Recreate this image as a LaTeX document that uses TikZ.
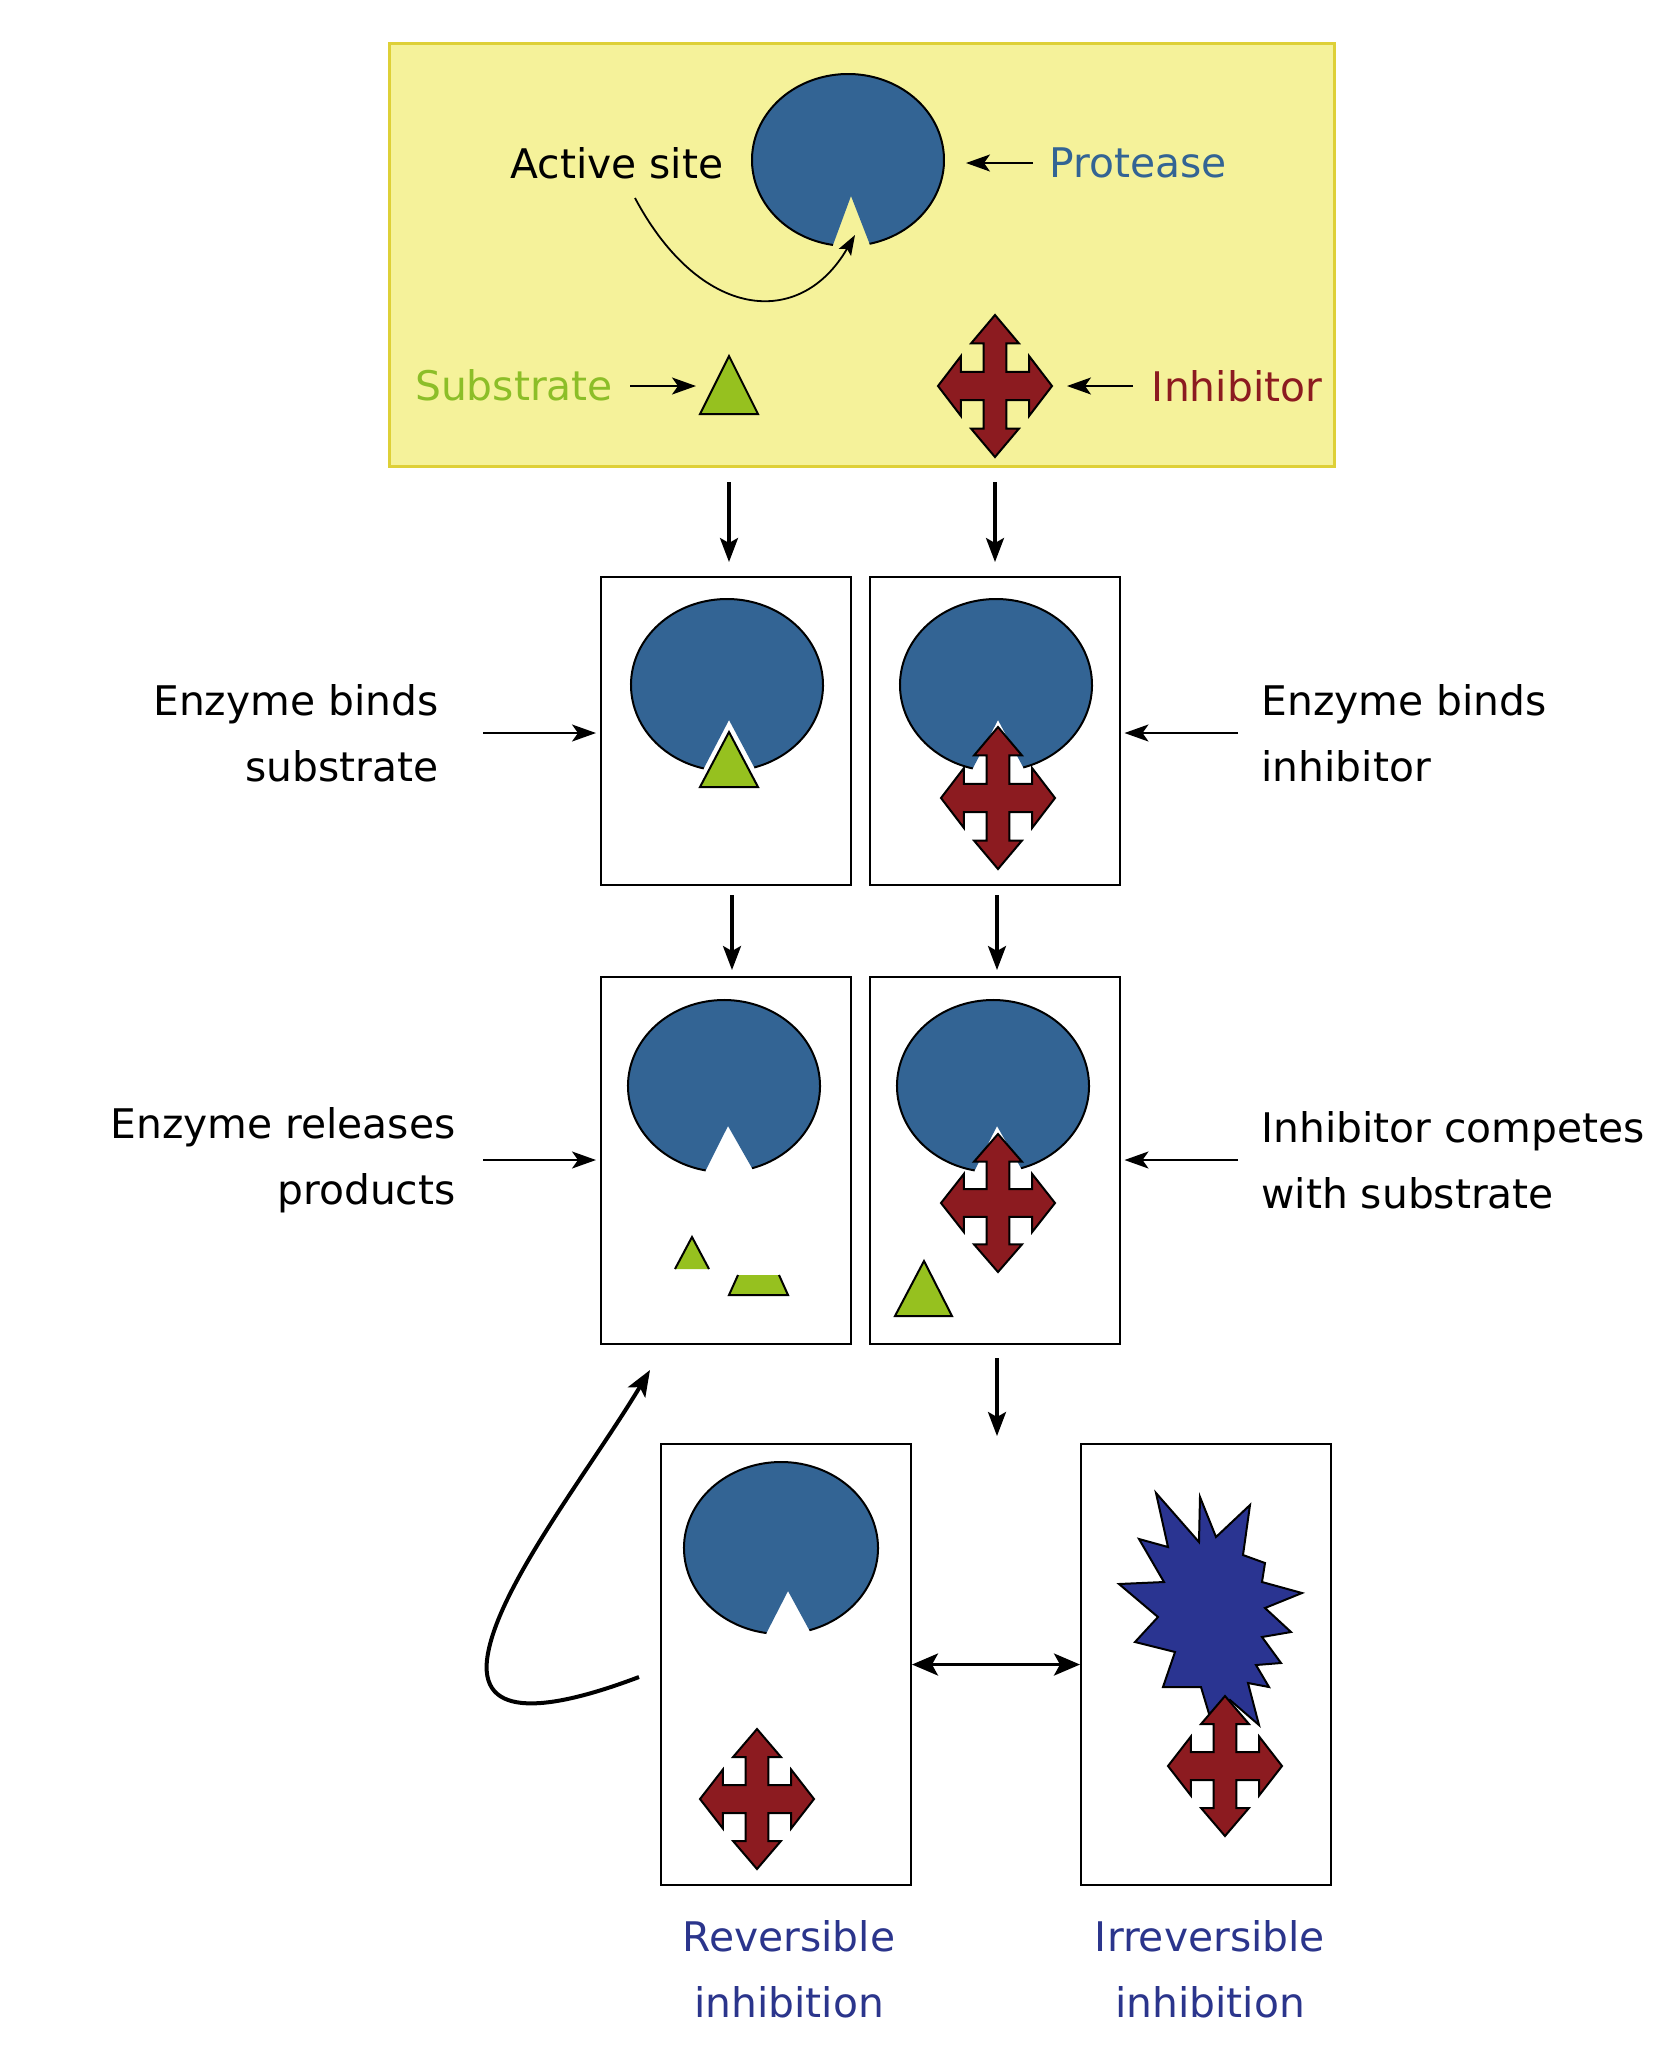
\documentclass[tikz,border=0pt]{standalone}
\usepackage{fontspec}
\setmainfont{DejaVu Sans}
\usetikzlibrary{arrows.meta}
\definecolor{protblue}{RGB}{51,100,148}
\definecolor{subgreen}{RGB}{150,193,31}
\definecolor{subtext}{RGB}{140,190,40}
\definecolor{inhibred}{RGB}{140,27,32}
\definecolor{starblue}{RGB}{42,52,145}
\definecolor{labblue}{RGB}{43,53,140}
\definecolor{yfill}{RGB}{245,242,154}
\definecolor{ybord}{RGB}{222,208,55}
\newcommand{\pacman}[8]{%
  \fill[protblue] ([shift={(#1,#2)}]#6:#3 and #4) arc[start angle=#6, end angle=#5-360, x radius=#3, y radius=#4] -- (#1+#7,#2+#8) -- cycle;
  \draw[line width=1pt] ([shift={(#1,#2)}]#6:#3 and #4) arc[start angle=#6, end angle=#5-360, x radius=#3, y radius=#4];}
\newcommand{\inhib}[4]{%
  \begin{scope}[shift={(#1,#2)}, xscale=#3, yscale=#4]
  \filldraw[fill=inhibred, draw=black, line width=1pt, line join=miter]
   (0,-1) -- (0.42,-0.6) -- (0.2,-0.6) -- (0.2,-0.2) -- (0.6,-0.2) -- (0.6,-0.42) -- (1,0)
   -- (0.6,0.42) -- (0.6,0.2) -- (0.2,0.2) -- (0.2,0.6) -- (0.42,0.6) -- (0,1)
   -- (-0.42,0.6) -- (-0.2,0.6) -- (-0.2,0.2) -- (-0.6,0.2) -- (-0.6,0.42) -- (-1,0)
   -- (-0.6,-0.42) -- (-0.6,-0.2) -- (-0.2,-0.2) -- (-0.2,-0.6) -- (-0.42,-0.6) -- cycle;
  \end{scope}}
\begin{document}
\begin{tikzpicture}[x=0.5pt,y=-0.5pt,
  lbl/.style={font=\fontsize{20.4}{33}\selectfont, inner sep=0pt},
  box/.style={draw=black, fill=white, line width=1pt, inner sep=0pt, minimum width=125pt},
  thinarr/.style={line width=1pt, -{Stealth[length=12pt, width=8.5pt, inset=3pt]}},
  downarr/.style={line width=1.6pt, -{Stealth[length=12pt, width=9pt, inset=2.5pt]}},
  dblarr/.style={line width=1.6pt, {Stealth[length=13pt, width=11pt, inset=3pt]}-{Stealth[length=13pt, width=11pt, inset=3pt]}},
  looparr/.style={line width=2pt, -{Stealth[length=13pt, width=10pt, inset=3pt]}},
  curvarr/.style={line width=0.9pt, -{Stealth[length=10pt, width=7pt, inset=2pt]}},
  tri/.style={fill=subgreen, draw=black, line width=1pt, line join=miter}]
\useasboundingbox (0,0) rectangle (1673,2053);
\fill[white] (0,0) rectangle (1673,2053);

% ---------- top panel ----------
\node[draw=ybord, fill=yfill, line width=1.5pt, minimum width=472.5pt, minimum height=211.5pt, inner sep=0pt] (toppanel) at (861.5,254.5) {};
\pacman{848}{160}{96}{86}{99}{77}{3}{36}
\node[lbl] (actsite) at (617,163) {Active site};
\node[lbl, text=protblue] (protease) at (1138,163) {Protease};
\node[lbl, text=subtext] (substrate) at (514,385) {Substrate};
\node[lbl, text=inhibred] (inhibitor) at (1237,386) {Inhibitor};
\draw[tri] (729,356) -- (700,414) -- (758,414) -- cycle;
\inhib{995}{386}{57}{71}
\coordinate (as1) at (635,198);
\coordinate (as2) at (855,235);
\draw[curvarr] (as1) .. controls (700,320) and (800,330) .. (as2);
\coordinate (pa1) at (1033,163);
\coordinate (pa2) at (966,163);
\draw[thinarr] (pa1) -- (pa2);
\coordinate (sa1) at (630,386);
\coordinate (sa2) at (696,386);
\draw[thinarr] (sa1) -- (sa2);
\coordinate (ia1) at (1133,386);
\coordinate (ia2) at (1067,386);
\draw[thinarr] (ia1) -- (ia2);

% ---------- boxes ----------
\node[box, minimum height=154pt] (b1L) at (726,731) {};
\node[box, minimum height=154pt] (b1R) at (994.5,731) {};
\node[box, minimum height=183.5pt] (b2L) at (726,1160.5) {};
\node[box, minimum height=183.5pt] (b2R) at (994.5,1160.5) {};
\node[box, minimum height=220.5pt] (b3L) at (786,1664.5) {};
\node[box, minimum height=220.5pt] (b3R) at (1206,1664.5) {};

% ---------- down arrows ----------
\coordinate (d1L) at (729,482);
\coordinate (d1R) at (995,482);
\draw[downarr, shorten >=7pt] (d1L) -- (d1L |- b1L.north);
\draw[downarr, shorten >=7pt] (d1R) -- (d1R |- b1R.north);
\draw[downarr, shorten <=4.5pt, shorten >=3pt] ([xshift=3pt]b1L.south) -- ([xshift=3pt]b2L.north);
\draw[downarr, shorten <=4.5pt, shorten >=3pt] ([xshift=1.25pt]b1R.south) -- ([xshift=1.25pt]b2R.north);
\coordinate (d3end) at (997,1436);
\draw[downarr, shorten <=6.5pt] ([xshift=1.25pt]b2R.south) -- (d3end);

% ---------- row 1 contents ----------
\pacman{727}{685}{96}{86}{104}{73.5}{2}{35}
\draw[tri] (729,732) -- (700,787) -- (758,787) -- cycle;
\pacman{996}{685}{96}{86}{104}{73.5}{2}{35}
\inhib{998}{798}{57}{71}

% ---------- row 2 contents ----------
\pacman{724}{1086}{96}{86}{101}{73}{4}{40}
\fill[subgreen] (692,1237) -- (675,1269) -- (709,1269) -- cycle;
\draw[line width=1pt] (675,1269) -- (692,1237) -- (709,1269);
\fill[subgreen] (738,1275) -- (779,1275) -- (788,1295) -- (729,1295) -- cycle;
\draw[line width=1pt, line join=miter] (738,1275) -- (729,1295) -- (788,1295) -- (779,1275);
\pacman{993}{1086}{96}{86}{101}{73}{4}{40}
\inhib{998}{1203}{57}{69}
\draw[tri] (924,1261) -- (895,1316) -- (952,1316) -- cycle;

% ---------- row 3 contents ----------
\pacman{781}{1548}{97}{86}{98.6}{73}{7}{43}
\inhib{757}{1799}{57}{70}
\filldraw[fill=starblue, draw=black, line width=1pt, line join=miter]
  (1156,1493) -- (1199,1542) -- (1200,1497) -- (1216,1537) -- (1250,1505) -- (1243,1555)
  -- (1265,1563) -- (1262,1582) -- (1302,1593) -- (1265,1608) -- (1291,1632) -- (1262,1637)
  -- (1281,1663) -- (1256,1665) -- (1269,1687) -- (1248,1683) -- (1259,1725) -- (1230,1700)
  -- (1210,1717) -- (1201,1687) -- (1163,1687) -- (1175,1652) -- (1135,1642) -- (1158,1617)
  -- (1119,1584) -- (1164,1582) -- (1139,1539) -- (1168,1547) -- cycle;
\inhib{1225}{1766}{57}{70}

\draw[dblarr] (b3L.east) -- (b3R.west);
\coordinate (lp1) at (639,1677);
\coordinate (lp2) at (650,1370);
\draw[looparr] (lp1) .. controls (565,1705) and (480,1725) .. (487,1660) .. controls (495,1590) and (590,1470) .. (lp2);

% ---------- side labels ----------
\node[lbl, anchor=east, align=right] (t1) at (439,733) {Enzyme binds\\substrate};
\node[lbl, anchor=west, align=left] (t2) at (1261,733) {Enzyme binds\\inhibitor};
\node[lbl, anchor=east, align=right] (t3) at (456,1160) {Enzyme releases\\products};
\node[lbl, anchor=west, align=left] (t4) at (1261,1160) {Inhibitor competes\\with substrate};
\coordinate (a1) at (483,733);
\coordinate (a2) at (1238,733);
\coordinate (a3) at (483,1160);
\coordinate (a4) at (1238,1160);
\draw[thinarr, shorten >=2pt] (a1) -- (a1 -| b1L.west);
\draw[thinarr, shorten >=2pt] (a2) -- (a2 -| b1R.east);
\draw[thinarr, shorten >=2pt] (a3) -- (a3 -| b2L.west);
\draw[thinarr, shorten >=2pt] (a4) -- (a4 -| b2R.east);

% ---------- bottom labels ----------
\node[lbl, text=labblue, align=center] (rev) at (789,1969) {Reversible\\inhibition};
\node[lbl, text=labblue, align=center] (irrev) at (1210,1969) {Irreversible\\inhibition};
\end{tikzpicture}
\end{document}
